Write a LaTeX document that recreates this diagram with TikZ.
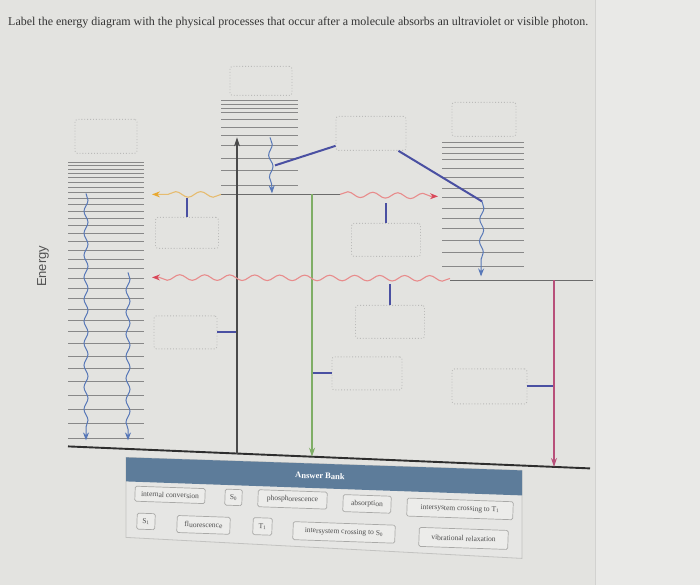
\documentclass[tikz,border=0pt]{standalone}
\usepackage{fontspec}
\setmainfont{Liberation Serif}
\newfontfamily\enfont{Liberation Sans}
\usetikzlibrary{decorations.pathmorphing,arrows.meta,calc}
\definecolor{bgc}{HTML}{E3E3E0}
\definecolor{edgec}{HTML}{E9E9E7}
\definecolor{edgel}{HTML}{D2D2D0}
\definecolor{ladc}{HTML}{888888}
\definecolor{levc}{HTML}{6B6B6B}
\definecolor{grc}{HTML}{2E2E2E}
\definecolor{boxc}{HTML}{BBBBB9}
\definecolor{tickc}{HTML}{4A50A2}
\definecolor{wblue}{HTML}{5878B8}
\definecolor{wyel}{HTML}{E6BC70}
\definecolor{wyelt}{HTML}{E8A830}
\definecolor{wred}{HTML}{E88C8C}
\definecolor{wredt}{HTML}{D9485A}
\definecolor{grn}{HTML}{7FAE66}
\definecolor{crim}{HTML}{B8507A}
\definecolor{absc}{HTML}{4A4A4A}
\definecolor{hdrc}{HTML}{5D7C9A}
\definecolor{bankc}{HTML}{E6E6E4}
\definecolor{bankd}{HTML}{C2C2C0}
\definecolor{chipc}{HTML}{ECECEA}
\definecolor{chipd}{HTML}{A9A9A7}
\definecolor{txtc}{HTML}{333333}
\definecolor{chiptxt}{HTML}{4E4E4E}
\begin{document}
\begin{tikzpicture}[x=1pt,y=-1pt,
  ladder/.style={draw=ladc, line width=0.9pt},
  level/.style={draw=levc, line width=1.4pt},
  ground/.style={draw=grc, line width=1.9pt},
  lbox/.style={draw=boxc, dotted, line width=0.9pt, rounded corners=2.5pt, fill=bgc, inner sep=0pt},
  tick/.style={draw=tickc, line width=2pt},
  hwave/.style={decorate, decoration={snake, amplitude=2.8pt, segment length=25pt, post length=7pt}, line width=1.1pt},
  vwave/.style={decorate, decoration={snake, amplitude=2pt, segment length=22pt, post length=7pt}, line width=1pt, draw=wblue, -{Stealth[length=8pt,width=6pt]}},
  varrow/.style={line width=1.1pt, -{Stealth[length=9pt,width=6pt]}},
  chip/.style={draw=chipd, fill=chipc, line width=0.7pt, rounded corners=1.5pt, inner sep=0pt, rotate=-2, text=chiptxt, font=\fontsize{7.5}{9}\selectfont},
]
% background
\fill[bgc] (0,0) rectangle (700,585);
\fill[edgec] (595,0) rectangle (700,585);
\draw[edgel, line width=0.8pt] (595,0) -- (595,585);
\useasboundingbox (0,0) rectangle (700,585);

% title
\node[anchor=west, text=txtc, inner sep=0pt] (title) at (8,22) {\resizebox{580pt}{!}{Label the energy diagram with the physical processes that occur after a molecule absorbs an ultraviolet or visible photon.}};

% energy axis label
\node[rotate=90, text=txtc!85, font=\enfont\fontsize{13}{15}\selectfont] (elab) at (43,266) {Energy};

% left ladder
\foreach \i in {0,...,31} {
  \draw[ladder] (68,{162+3*\i+0.19*\i*\i}) -- (144,{162+3*\i+0.19*\i*\i});
}
% central ladder
\foreach \yy in {100,104,108,112,119,127,135,145,158,170,185} {
  \draw[ladder] (221,\yy) -- (298,\yy);
}
% right ladder
\foreach \yy in {142,147,153,159,168,177,188,197,208,218,228,240,252,266} {
  \draw[ladder] (442,\yy) -- (524,\yy);
}

% levels
\coordinate (s1L) at (221,194);
\coordinate (s1R) at (340,194);
\coordinate (t1L) at (450,280);
\coordinate (t1R) at (593,280);
\coordinate (g1) at (68,446);
\coordinate (g2) at (590,468);
\draw[level] (s1L) -- (s1R);
\draw[level] (t1L) -- (t1R);
\draw[ground] (g1) -- (g2);

% label boxes
\node[lbox, minimum width=62pt, minimum height=34pt] (boxS1) at (106,136) {};
\node[lbox, minimum width=62pt, minimum height=29pt] (boxTop) at (261,80.5) {};
\node[lbox, minimum width=70pt, minimum height=34pt] (boxVR) at (371,133) {};
\node[lbox, minimum width=64pt, minimum height=34pt] (boxT1) at (484,119) {};
\node[lbox, minimum width=63pt, minimum height=31pt] (boxA) at (187,232.5) {};
\node[lbox, minimum width=69pt, minimum height=33pt] (boxB) at (386,239.5) {};
\node[lbox, minimum width=69pt, minimum height=33pt] (boxC) at (390,321.5) {};
\node[lbox, minimum width=63pt, minimum height=33pt] (boxD) at (185.5,332) {};
\node[lbox, minimum width=70pt, minimum height=33pt] (boxE) at (367,373) {};
\node[lbox, minimum width=75pt, minimum height=35pt] (boxF) at (489.5,386) {};

% points on the arrows
\coordinate (gB) at (237,453.1);
\coordinate (gG) at (312,456.3);
\coordinate (gR) at (554,466.5);
\coordinate (absTop) at (237,137);
\coordinate (s1G) at (312,194);
\coordinate (t1C) at (554,280);
\coordinate (yEnd) at (152,194);
\coordinate (rTopEnd) at (438,196);
\coordinate (rStart) at (450,278);
\coordinate (rEnd) at (152,277);
\coordinate (wC0) at (270,137);
\coordinate (wC1) at (272,193);
\coordinate (wR0) at (482,201);
\coordinate (wR1) at (481,276);
\coordinate (wL0) at (86,193);
\coordinate (wL1) at (86,440);
\coordinate (wM0) at (128,272);
\coordinate (wM1) at (128,440);
\coordinate (pC) at (275,165);
\coordinate (tA) at (187,198);
\coordinate (tB) at (386,203);
\coordinate (tC) at (390,284);
\coordinate (tD) at (235.5,332);
\coordinate (tE) at (313,373);
\coordinate (tF) at (552.5,386);

% straight vertical arrows
\draw[varrow, absc] (gB) -- (absTop);
\draw[varrow, grn] (s1G) -- (gG);
\draw[varrow, crim] (t1C) -- (gR);

% wavy arrows
\draw[hwave, wyel, -{Stealth[length=8pt,width=6pt,color=wyelt]}] (s1L) -- (yEnd);
\draw[hwave, wred, -{Stealth[length=8pt,width=6pt,color=wredt]}] (s1R) -- (rTopEnd);
\draw[hwave, wred, -{Stealth[length=8pt,width=6pt,color=wredt]}] (rStart) -- (rEnd);
\draw[vwave] (wC0) -- (wC1);
\draw[vwave] (wR0) -- (wR1);
\draw[vwave] (wL0) -- (wL1);
\draw[vwave] (wM0) -- (wM1);

% pointers
\draw[tick] ($(boxVR.south west)+(0,-5)$) -- (pC);
\draw[tick] ($(boxVR.south east)+(-8,0)$) -- (wR0);
\draw[tick] (boxA.north) -- (tA);
\draw[tick] (boxB.north) -- (tB);
\draw[tick] (boxC.north) -- (tC);
\draw[tick] (boxD.east) -- (tD);
\draw[tick] (boxE.west) -- (tE);
\draw[tick] (boxF.east) -- (tF);

% answer bank
\filldraw[fill=bankc, draw=bankd, line width=0.8pt] (126,457) -- (522,470) -- (522,558) -- (126,537) -- cycle;
\fill[hdrc] (126,457) -- (522,470) -- (522,495) -- (126,481) -- cycle;
\node[rotate=-2, text=white, font=\bfseries\fontsize{8.5}{10}\selectfont] (bankhead) at (320,475.5) {Answer Bank};

\node[chip, minimum width=70pt, minimum height=15pt] (c1) at (170,494.5) {internal conversion};
\node[chip, minimum width=17pt, minimum height=16pt] (c2) at (233.5,497) {S\textsubscript{0}};
\node[chip, minimum width=69pt, minimum height=17pt] (c3) at (292.5,499) {phosphorescence};
\node[chip, minimum width=48pt, minimum height=17pt] (c4) at (367,503.5) {absorption};
\node[chip, minimum width=106pt, minimum height=18pt] (c5) at (460,508.5) {intersystem crossing to T\textsubscript{1}};
\node[chip, minimum width=18pt, minimum height=16pt] (c6) at (146,521) {S\textsubscript{1}};
\node[chip, minimum width=53pt, minimum height=17pt] (c7) at (203.5,524.5) {fluorescence};
\node[chip, minimum width=19pt, minimum height=17pt] (c8) at (262.5,526) {T\textsubscript{1}};
\node[chip, minimum width=102pt, minimum height=18pt] (c9) at (344,532) {intersystem crossing to S\textsubscript{0}};
\node[chip, minimum width=89pt, minimum height=19pt] (c10) at (463.5,538) {vibrational relaxation};
\end{tikzpicture}
\end{document}
